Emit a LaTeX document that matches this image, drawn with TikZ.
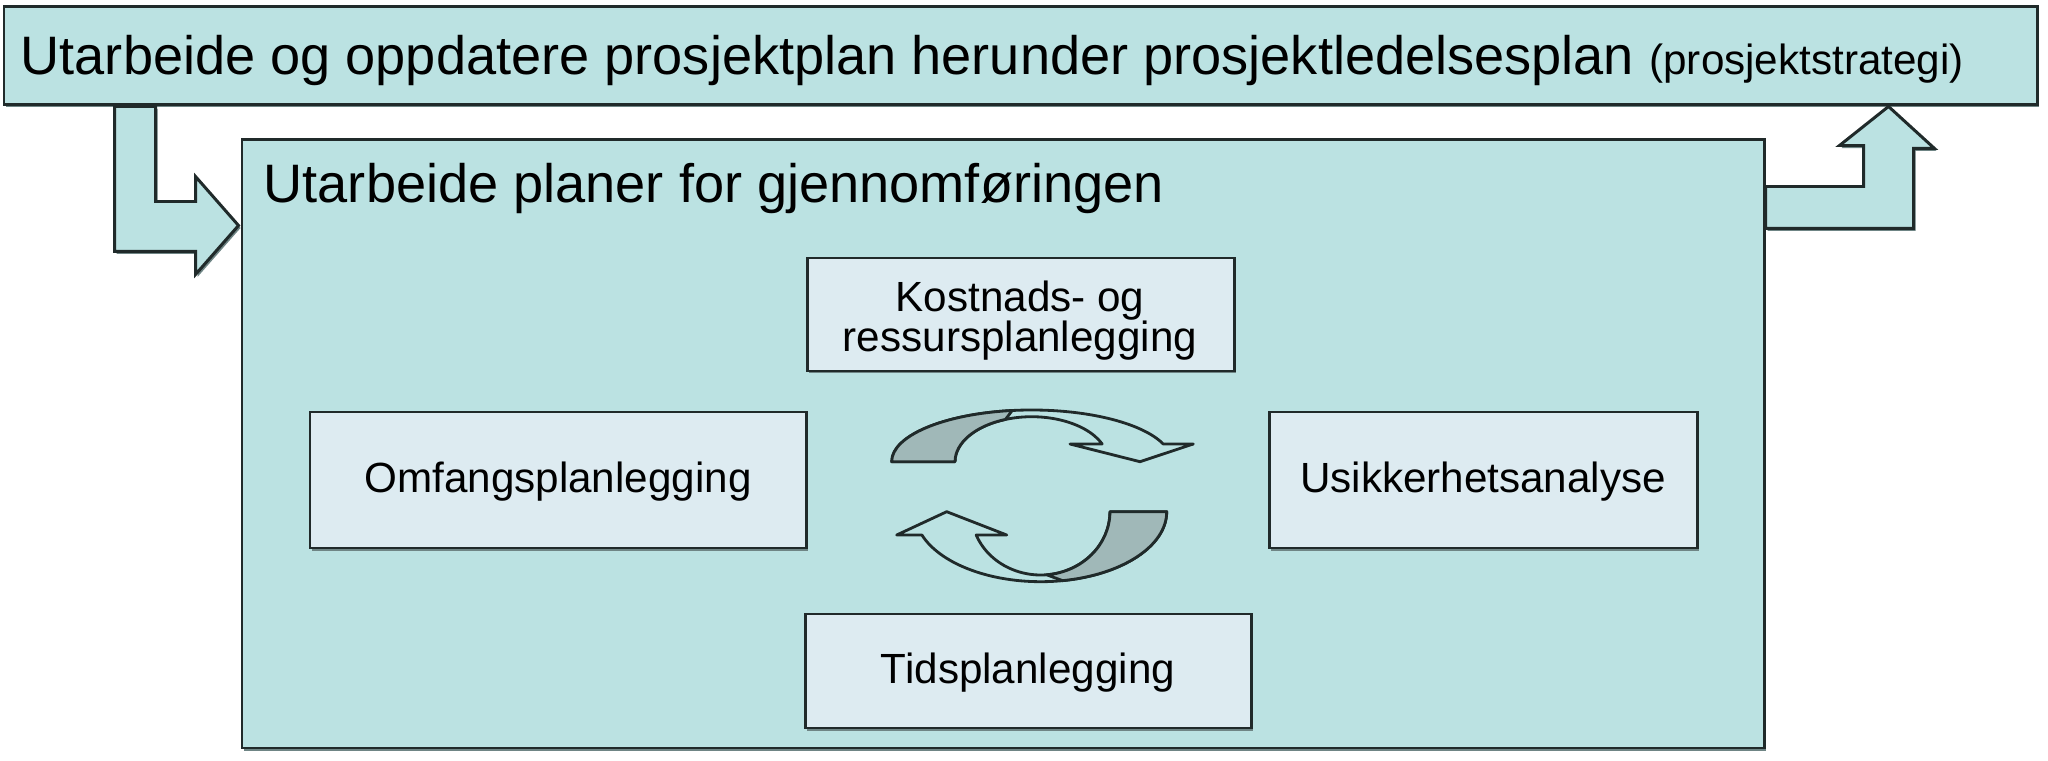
\documentclass[tikz,border=0pt]{standalone}
\usepackage{fontspec}
\setmainfont{Liberation Sans}
\usetikzlibrary{shadows,fit,calc}
\definecolor{boxfill}{HTML}{BBE2E2}
\definecolor{subfill}{HTML}{DDEBF1}
\definecolor{edgec}{HTML}{202A2A}
\definecolor{shadowc}{HTML}{6F8585}
\definecolor{backgray}{HTML}{A0B8B8}
\begin{document}
\begin{tikzpicture}[x=0.01cm,y=-0.01cm,
  shd/.style={drop shadow={shadow xshift=0.02cm,shadow yshift=-0.025cm,fill=shadowc,opacity=1}},
  bigbox/.style={draw=edgec,line width=0.85pt,fill=boxfill,inner sep=0pt,shd},
  subbox/.style={draw=edgec,line width=0.85pt,fill=subfill,inner sep=0pt,shd},
  blockarrow/.style={draw=edgec,line width=0.85pt,fill=boxfill,line join=miter,shd},
  bigtxt/.style={font=\fontsize{15.4}{18}\selectfont,inner sep=0pt,anchor=base west},
  lbl/.style={font=\fontsize{12}{11.6}\selectfont,inner sep=0pt,anchor=base,align=center},
  cyc/.style={draw=edgec,line width=0.8pt,line join=round}
]
\fill[white] (0,0) rectangle (2048,761);
\useasboundingbox (0,0) rectangle (2048,761);

% boxes
\node[bigbox, fit={(4,7) (2037,105)}] (top) {};
\node[bigbox, fit={(242,140) (1764,748)}] (plan) {};
\node[subbox, fit={(807,258) (1234,371)}] (kost) {};
\node[subbox, fit={(310,412) (806,548)}] (omf) {};
\node[subbox, fit={(1269,412) (1697,548)}] (usi) {};
\node[subbox, fit={(805,614) (1251,728)}] (tid) {};

% texts
\node[bigtxt] (toptxt) at (20,75) {Utarbeide og oppdatere prosjektplan herunder prosjektledelsesplan {\fontsize{12}{14}\selectfont(prosjektstrategi)}};
\node[bigtxt] (plantxt) at (263,203) {Utarbeide planer for gjennomføringen};
\node[lbl] (kosttxt) at (1020,352) {Kostnads- og\\ressursplanlegging};
\node[lbl] (omftxt) at (558,493) {Omfangsplanlegging};
\node[lbl] (usitxt) at (1483,493) {Usikkerhetsanalyse};
\node[lbl] (tidtxt) at (1028,683) {Tidsplanlegging};

% block arrow: top -> plan
\path ($(top.south west)+(112,0)$) coordinate (la0);
\path ($(plan.north west)+(-2,87)$) coordinate (la1);
\filldraw[blockarrow] (la0) -- ++(0,145) -- ++(81,0) -- ++(0,23) -- (la1)
  -- ++(-43,-49) -- ++(0,25) -- ++(-40,0) |- (la0) -- cycle;

% block arrow: plan -> top
\path ($(plan.north east)+(0,48)$) coordinate (ra0);
\path ($(top.south east)+(-150,0)$) coordinate (ra1);
\filldraw[blockarrow] (ra0) -- ++(98,0) -- ++(0,-41) -- ++(-24,0) -- (ra1)
  -- ++(46,42) -- ++(-21,0) -- ++(0,80) -- ++(-148,0) -- cycle;

% upper cycle arrow (curved, head pointing down at right)
\filldraw[cyc, fill=boxfill] (891.7,461.7) arc[start angle=180, end angle=340, x radius=140, y radius=51.7]
  -- (1193.3,444) -- (1140,461.7) -- (1070,444) -- (1102.2,444)
  arc[start angle=336.8, end angle=180, x radius=76.7, y radius=45] -- cycle;
\filldraw[cyc, fill=backgray] (891.7,461.7) arc[start angle=180, end angle=262, x radius=140, y radius=51.7]
  -- (1005.5,419.4) arc[start angle=250, end angle=180, x radius=76.7, y radius=45] -- cycle;

% lower cycle arrow (curved, head pointing up at left)
\filldraw[cyc, fill=boxfill] (1166.7,511.7) arc[start angle=0, end angle=160.5, x radius=126, y radius=70]
  -- (896.7,535) -- (946.7,511.7) -- (1006.7,535) -- (976.2,535)
  arc[start angle=158.4, end angle=0, x radius=69.3, y radius=63.3] -- cycle;
\filldraw[cyc, fill=backgray] (1166.7,511.7) arc[start angle=0, end angle=80, x radius=126, y radius=70]
  -- (1046.7,574.8) arc[start angle=85, end angle=0, x radius=69.3, y radius=63.3] -- cycle;
\end{tikzpicture}
\end{document}
